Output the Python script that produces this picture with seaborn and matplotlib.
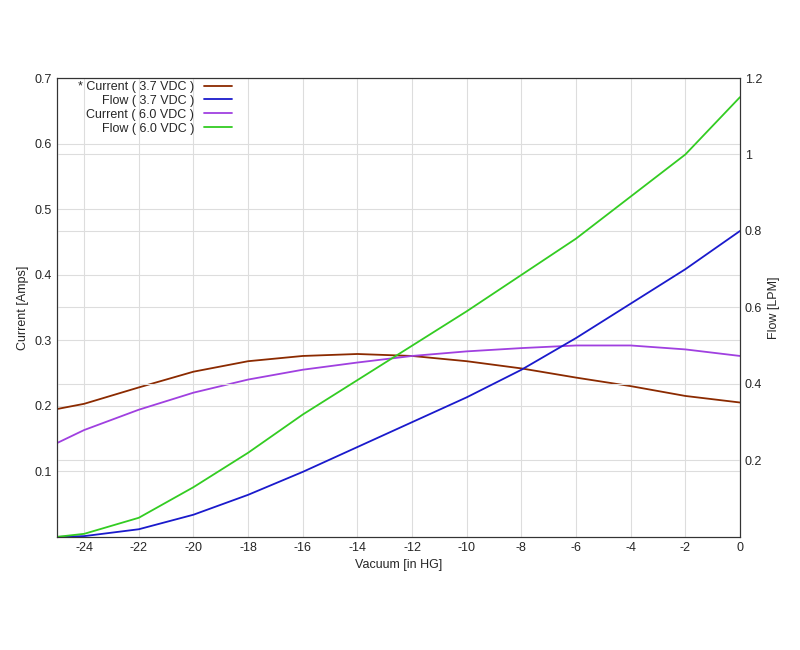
import numpy as np
import pandas as pd
import matplotlib
matplotlib.use("Agg")
import matplotlib.pyplot as plt
import seaborn as sns

# Data
vacuum = [-25, -24, -22, -20, -18, -16, -14, -12, -10, -8, -6, -4, -2, 0]
current_37 = [0.195, 0.203, 0.228, 0.252, 0.268, 0.276, 0.279, 0.276, 0.268, 0.257, 0.243, 0.230, 0.215, 0.205]
current_60 = [0.143, 0.163, 0.194, 0.220, 0.240, 0.255, 0.266, 0.276, 0.283, 0.288, 0.292, 0.292, 0.286, 0.276]
flow_37 = [0.0, 0.002, 0.02, 0.058, 0.11, 0.17, 0.235, 0.30, 0.365, 0.437, 0.52, 0.61, 0.70, 0.80]
flow_60 = [0.0, 0.008, 0.05, 0.13, 0.22, 0.32, 0.41, 0.50, 0.59, 0.685, 0.78, 0.89, 1.0, 1.15]

df = pd.DataFrame({"Vacuum": vacuum, "c37": current_37, "c60": current_60,
                   "f37": flow_37, "f60": flow_60})

sns.set_theme(style="white")
plt.rcParams['font.family'] = ['Liberation Sans', 'DejaVu Sans']
plt.rcParams['axes.unicode_minus'] = False

fig = plt.figure(figsize=(8, 6.5), dpi=100)
ax = fig.add_axes([0.071, 0.174, 0.854, 0.706])
ax2 = ax.twinx()

sns.lineplot(data=df, x="Vacuum", y="c37", ax=ax, color="#8b2a00", lw=1.3, label="* Current ( 3.7 VDC )", legend=False)
sns.lineplot(data=df, x="Vacuum", y="c60", ax=ax, color="#a040e0", lw=1.3, label="Current ( 6.0 VDC )", legend=False)
sns.lineplot(data=df, x="Vacuum", y="f37", ax=ax2, color="#1a1acc", lw=1.3, label="Flow ( 3.7 VDC )", legend=False)
sns.lineplot(data=df, x="Vacuum", y="f60", ax=ax2, color="#33cc22", lw=1.3, label="Flow ( 6.0 VDC )", legend=False)

ax.set_xlim(-25, 0)
ax.set_ylim(0, 0.7)
ax2.set_ylim(0, 1.2)
ax.set_xticks(range(-24, 1, 2))
ax.set_yticks([0.1, 0.2, 0.3, 0.4, 0.5, 0.6, 0.7])
ax2.set_yticks([0.2, 0.4, 0.6, 0.8, 1.0, 1.2])
ax2.set_yticklabels(["0.2", "0.4", "0.6", "0.8", "1", "1.2"])
ax.grid(True, color="#dddddd", lw=0.8)
ax2.grid(True, axis="y", color="#dddddd", lw=0.8)
ax.set_axisbelow(True)

ax.set_xlabel("Vacuum [in HG]", fontsize=9)
ax.set_ylabel("Current [Amps]", fontsize=9)
ax2.set_ylabel("Flow [LPM]", fontsize=9)
for a in (ax, ax2):
    a.tick_params(labelsize=9, length=0)
    for s in a.spines.values():
        s.set_color("#333333")
        s.set_linewidth(0.8)

# Legend in the order shown
lines = {l.get_label(): l for l in ax.get_lines() + ax2.get_lines()}
order = ["* Current ( 3.7 VDC )", "Flow ( 3.7 VDC )", "Current ( 6.0 VDC )", "Flow ( 6.0 VDC )"]
leg = ax.legend([lines[k] for k in order], order, loc="upper left", bbox_to_anchor=(0.02, 1.01),
                markerfirst=False, frameon=False, fontsize=9, handlelength=2.2,
                labelspacing=0.15, borderaxespad=0.2)
for t in leg.get_texts():
    t.set_ha("right")
leg._legend_box.align = "right"

fig.savefig("out.png")
